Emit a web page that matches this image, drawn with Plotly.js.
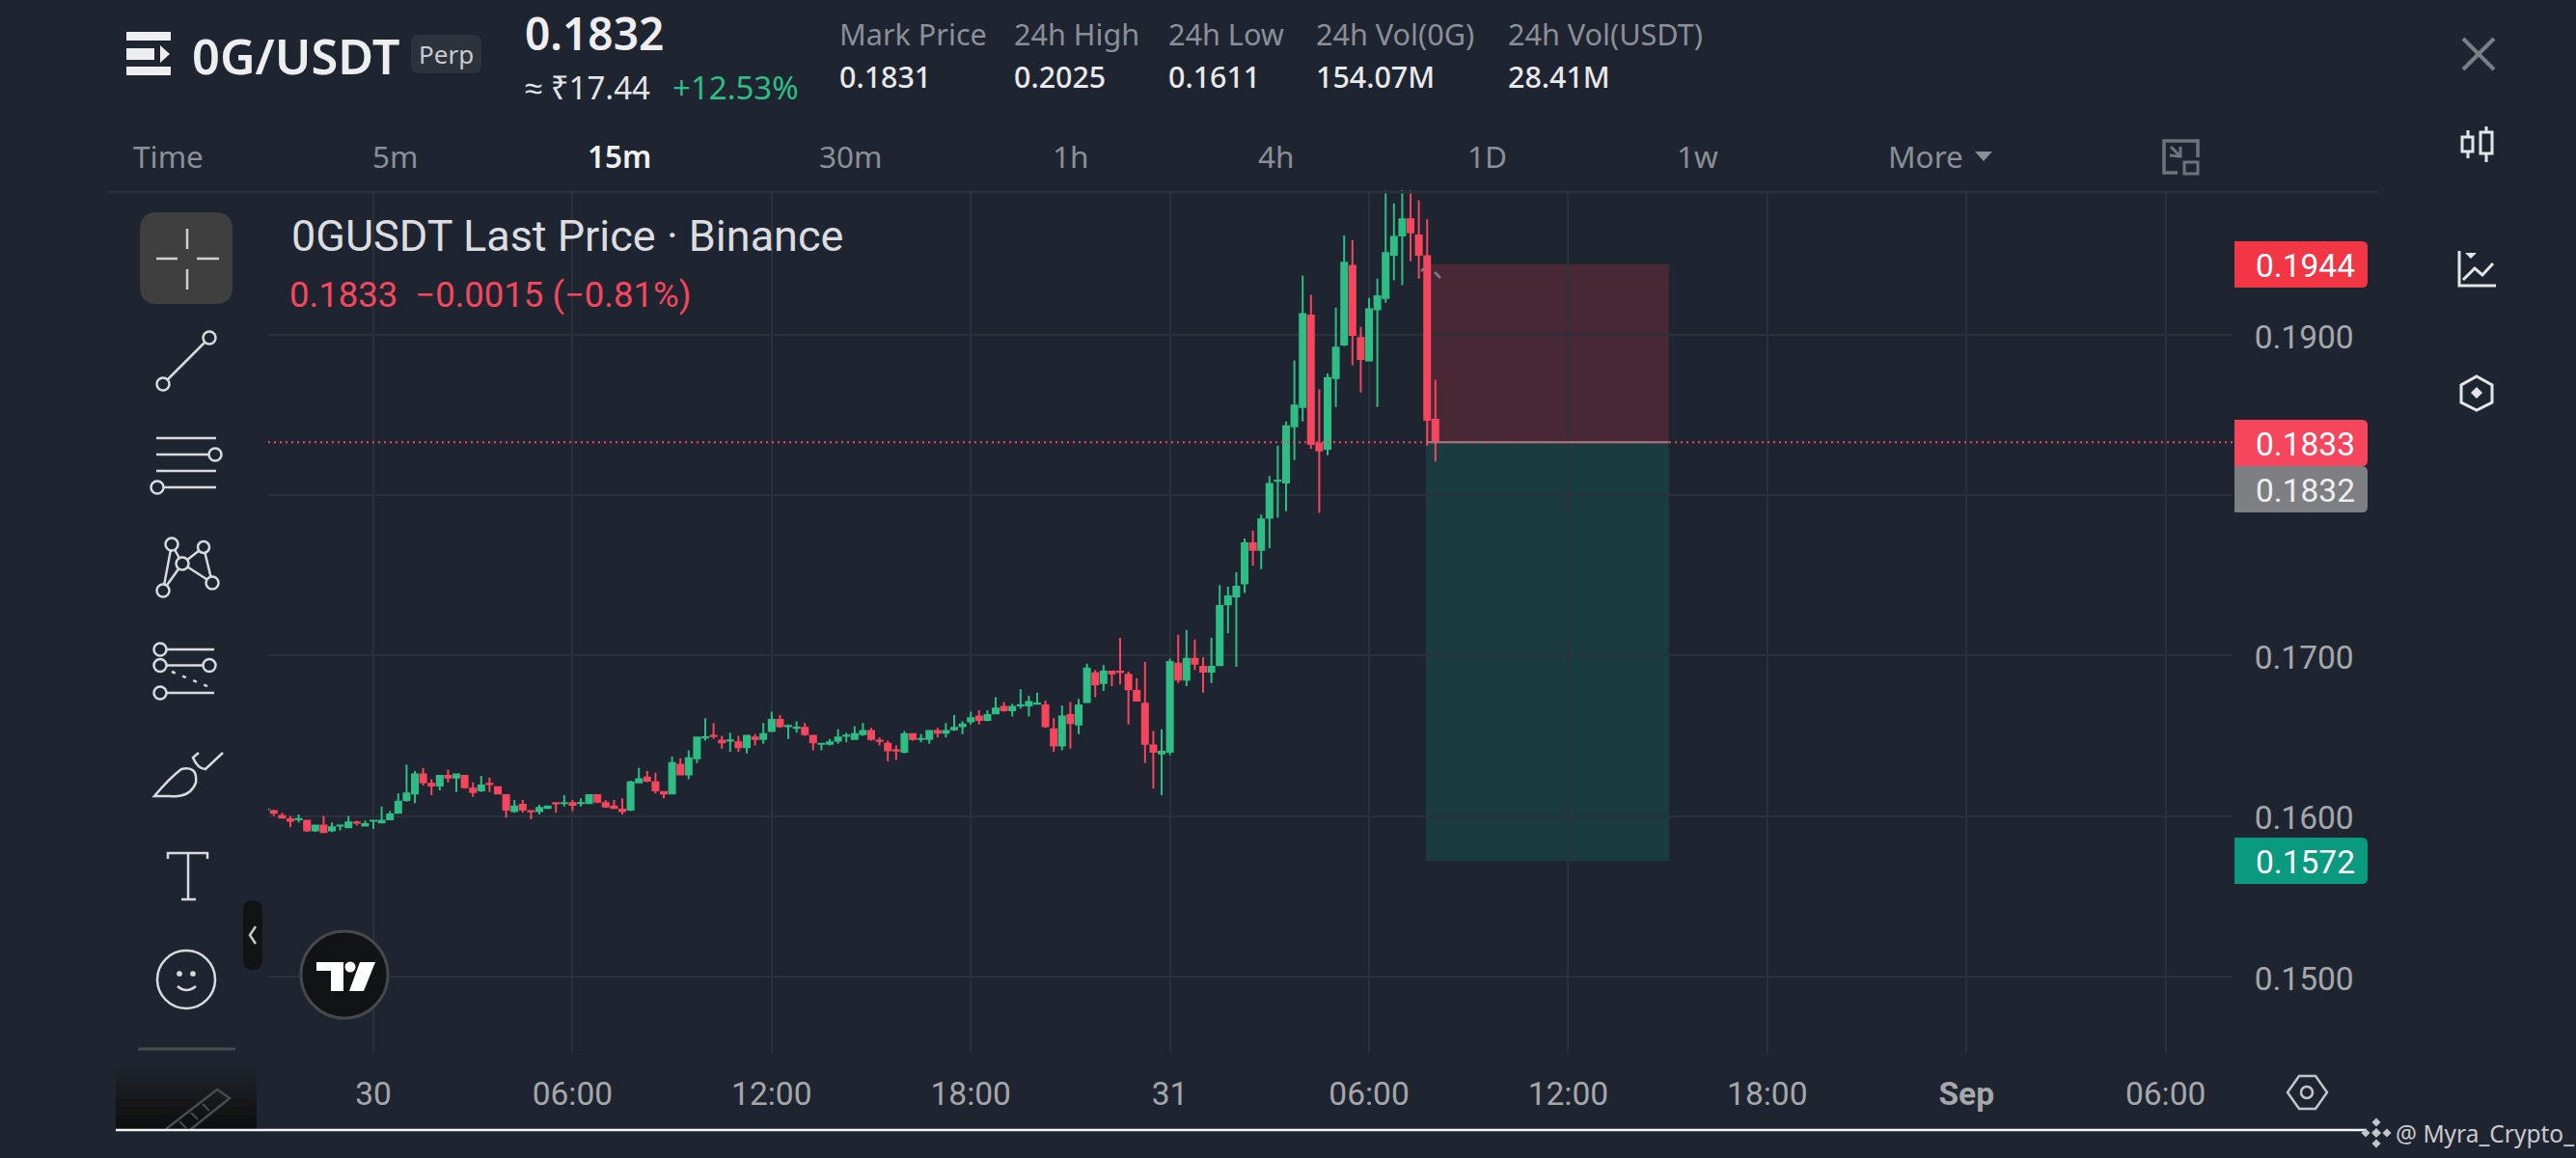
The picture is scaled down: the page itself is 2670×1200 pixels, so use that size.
<!DOCTYPE html>
<html>
<head>
<meta charset="utf-8">
<script src="https://cdn.plot.ly/plotly-3.0.1.min.js"></script>
<style>html,body{margin:0;padding:0;background:#1f2530;}#chart{width:2670px;height:1200px;}</style>
</head>
<body>
<div id="chart"></div>
<script>
const firstCandle = "2025-08-29T20:45:00";
const openPrices = [
0.1604,0.1603,0.1600,0.1598,0.1598,0.1597,0.1591,0.1594,0.1591,0.1594,
0.1593,0.1596,0.1594,0.1597,0.1596,0.1598,0.1602,0.1610,0.1614,0.1626,
0.1620,0.1619,0.1625,0.1624,0.1625,0.1617,0.1616,0.1620,0.1618,0.1613,
0.1603,0.1607,0.1603,0.1603,0.1605,0.1608,0.1608,0.1608,0.1608,0.1608,
0.1613,0.1608,0.1606,0.1604,0.1604,0.1621,0.1624,0.1621,0.1615,0.1614,
0.1632,0.1626,0.1636,0.1649,0.1650,0.1647,0.1647,0.1646,0.1643,0.1649,
0.1648,0.1653,0.1660,0.1656,0.1655,0.1655,0.1650,0.1645,0.1645,0.1647,
0.1650,0.1648,0.1651,0.1653,0.1647,0.1645,0.1641,0.1640,0.1651,0.1648,
0.1648,0.1653,0.1652,0.1654,0.1656,0.1659,0.1662,0.1660,0.1664,0.1668,
0.1666,0.1669,0.1669,0.1670,0.1669,0.1654,0.1644,0.1663,0.1657,0.1671,
0.1689,0.1683,0.1690,0.1690,0.1688,0.1678,0.1670,0.1644,0.1639,0.1640,
0.1695,0.1685,0.1698,0.1693,0.1690,0.1694,0.1732,0.1737,0.1745,0.1770,
0.1766,0.1786,0.1809,0.1808,0.1843,0.1855,0.1912,0.1832,0.1829,0.1873,
0.1894,0.1943,0.1898,0.1884,0.1916,0.1923,0.1950,0.1962,0.1972,0.1962,
0.1949,0.1847];
const closePrices = [
0.16041,0.1602,0.1599,0.1597,0.15981,0.1591,0.1594,0.1590,0.1593,0.15941,
0.1596,0.15959,0.1595,0.15971,0.1597,0.1601,0.1609,0.1614,0.1626,0.1621,
0.1619,0.1625,0.1624,0.1626,0.1618,0.1615,0.1619,0.16199,0.1614,0.1604,
0.1606,0.1604,0.16029,0.1605,0.1606,0.16079,0.16081,0.1607,0.16081,0.1613,
0.1609,0.1606,0.1605,0.1603,0.1621,0.1623,0.1622,0.1616,0.1614,0.1633,
0.1626,0.1636,0.1649,0.16491,0.16499,0.1646,0.16471,0.1643,0.1650,0.1648,
0.1651,0.1660,0.1656,0.16561,0.16551,0.1651,0.1646,0.16451,0.1646,0.1649,
0.16501,0.1651,0.1653,0.1648,0.16469,0.1641,0.16409,0.1651,0.1648,0.16481,
0.1653,0.1652,0.1653,0.1655,0.1657,0.1661,0.1660,0.1663,0.1667,0.1666,
0.1668,0.16691,0.1671,0.16701,0.1656,0.1644,0.1662,0.1658,0.1669,0.1692,
0.1682,0.1690,0.1689,0.16899,0.1679,0.1672,0.1645,0.1640,0.1640,0.1696,
0.1685,0.1698,0.1695,0.1690,0.1693,0.1731,0.1737,0.1743,0.1770,0.1766,
0.1785,0.1807,0.18091,0.1843,0.1856,0.1913,0.1832,0.1828,0.1873,0.1892,
0.1945,0.1900,0.1885,0.1916,0.1924,0.1951,0.1961,0.1972,0.1964,0.1950,
0.1847,0.1833];
const highPrices = [
0.1604,0.1604,0.1602,0.1600,0.1601,0.1597,0.1594,0.1600,0.1596,0.1594,
0.1600,0.1597,0.1597,0.1597,0.1606,0.1603,0.1614,0.1632,0.1628,0.1630,
0.1623,0.1625,0.1629,0.1626,0.1625,0.1621,0.1625,0.1624,0.1618,0.1613,
0.1610,0.1610,0.1603,0.1607,0.1606,0.1608,0.1613,0.1610,0.1611,0.1613,
0.1613,0.1610,0.1610,0.1611,0.1622,0.1630,0.1628,0.1627,0.1615,0.1637,
0.1636,0.1641,0.1649,0.1661,0.1658,0.1650,0.1652,0.1650,0.1650,0.1651,
0.1658,0.1665,0.1663,0.1657,0.1659,0.1658,0.1650,0.1645,0.1648,0.1654,
0.1652,0.1656,0.1658,0.1655,0.1649,0.1647,0.1644,0.1653,0.1651,0.1651,
0.1653,0.1655,0.1658,0.1663,0.1659,0.1665,0.1666,0.1666,0.1674,0.1671,
0.1670,0.1679,0.1675,0.1677,0.1672,0.1661,0.1669,0.1671,0.1673,0.1695,
0.1691,0.1694,0.1690,0.1711,0.1690,0.1686,0.1696,0.1653,0.1654,0.1698,
0.1713,0.1716,0.1710,0.1699,0.1711,0.1744,0.1743,0.1752,0.1773,0.1778,
0.1788,0.1812,0.1831,0.1846,0.1884,0.1937,0.1925,0.1866,0.1876,0.1917,
0.1962,0.1959,0.1905,0.1923,0.1935,0.1990,0.1982,0.1995,0.1995,0.1984,
0.1972,0.1872];
const lowPrices = [
0.1604,0.1600,0.1599,0.1593,0.1596,0.1590,0.1590,0.1590,0.1590,0.1591,
0.1593,0.1594,0.1594,0.1592,0.1596,0.1598,0.1602,0.1609,0.1608,0.1619,
0.1613,0.1616,0.1621,0.1615,0.1617,0.1612,0.1615,0.1615,0.1614,0.1599,
0.1602,0.1602,0.1598,0.1601,0.1605,0.1602,0.1606,0.1603,0.1606,0.1608,
0.1608,0.1605,0.1605,0.1601,0.1603,0.1621,0.1621,0.1614,0.1611,0.1614,
0.1626,0.1623,0.1633,0.1647,0.1648,0.1642,0.1640,0.1640,0.1639,0.1644,
0.1645,0.1653,0.1655,0.1648,0.1652,0.1650,0.1641,0.1641,0.1644,0.1645,
0.1646,0.1648,0.1650,0.1647,0.1644,0.1634,0.1635,0.1639,0.1647,0.1646,
0.1645,0.1649,0.1649,0.1653,0.1651,0.1657,0.1657,0.1659,0.1664,0.1665,
0.1662,0.1667,0.1662,0.1670,0.1655,0.1640,0.1641,0.1642,0.1651,0.1671,
0.1674,0.1678,0.1681,0.1682,0.1657,0.1672,0.1633,0.1617,0.1613,0.1638,
0.1683,0.1681,0.1691,0.1677,0.1683,0.1694,0.1714,0.1693,0.1739,0.1756,
0.1754,0.1767,0.1786,0.1790,0.1822,0.1846,0.1829,0.1789,0.1825,0.1855,
0.1893,0.1881,0.1864,0.1884,0.1855,0.1920,0.1934,0.1931,0.1946,0.1935,
0.1831,0.1821];

const priceTicks = [0.15,0.16,0.17,0.18,0.19];
const priceTickLabels = ["0.1500","0.1600","0.1700","","0.1900"];
const timeTicks = ["2025-08-30T00:00:00","2025-08-30T06:00:00","2025-08-30T12:00:00","2025-08-30T18:00:00","2025-08-31T00:00:00","2025-08-31T06:00:00","2025-08-31T12:00:00","2025-08-31T18:00:00","2025-09-01T00:00:00","2025-09-01T06:00:00"];
const timeTickLabels = ["30","06:00","12:00","18:00","31","06:00","12:00","18:00","<b>Sep</b>","06:00"];

const stopPrice = 0.1944, entryPrice = 0.1833, targetPrice = 0.1572;
const positionStart = "2025-08-31T07:43:00", positionEnd = "2025-08-31T15:02:00";
const tabs = ["Time","5m","15m","30m","1h","4h","1D","1w"];
const statLabels = ["Mark Price","24h High","24h Low","24h Vol(0G)","24h Vol(USDT)"];
const statValues = ["0.1831","0.2025","0.1611","154.07M","28.41M"];

const BG="#1f2530", GREEN="#2ebd85", RED="#f6465d", GRID="#2b313b", ICON="#d9dadc", MUTED="#8b8f97";
const L=278,R=2314,T=197,B=1091;
const X=x=>(x-L)/(R-L), Y=y=>(B-y)/(B-T);

const times=openPrices.map((_,i)=>{const d=new Date(firstCandle+"Z");d.setUTCMinutes(d.getUTCMinutes()+15*i);return d.toISOString().slice(0,19);});

const shapes=[], notes=[];
const P=(d,o={})=>shapes.push({type:'path',xref:'paper',yref:'paper',path:d.replace(/(-?[\d.]+)[ ,]+(-?[\d.]+)/g,(m,a,b)=>X(+a)+','+Y(+b)),
  line:{color:o.c||ICON,width:o.w===undefined?2.5:o.w},fillcolor:o.f||'rgba(0,0,0,0)',layer:o.layer||'above'});
const ln=(x0,y0,x1,y1,c=ICON,w=2.5,dash)=>shapes.push({type:'line',xref:'paper',yref:'paper',x0:X(x0),y0:Y(y0),x1:X(x1),y1:Y(y1),line:{color:c,width:w,dash:dash||'solid'},layer:'above'});
const box=(x0,y0,x1,y1,f)=>shapes.push({type:'rect',xref:'paper',yref:'paper',x0:X(x0),y0:Y(y0),x1:X(x1),y1:Y(y1),line:{width:0},fillcolor:f,layer:'above'});
const circ=(cx,cy,r,o={})=>shapes.push({type:'circle',xref:'paper',yref:'paper',x0:X(cx-r),x1:X(cx+r),y0:Y(cy-r),y1:Y(cy+r),line:{color:o.c||ICON,width:o.w===undefined?2.5:o.w},fillcolor:o.f||BG,layer:'above'});
const rr=(x0,y0,x1,y1,r,f)=>P(`M ${x0+r} ${y0} L ${x1-r} ${y0} Q ${x1} ${y0} ${x1} ${y0+r} L ${x1} ${y1-r} Q ${x1} ${y1} ${x1-r} ${y1} L ${x0+r} ${y1} Q ${x0} ${y1} ${x0} ${y1-r} L ${x0} ${y0+r} Q ${x0} ${y0} ${x0+r} ${y0} Z`,{c:f,f:f,w:0});
const note=(t,x,y,size,color,o={})=>notes.push({text:t,xref:'paper',yref:'paper',x:X(x),y:Y(y),xanchor:o.a||'left',yanchor:'middle',showarrow:false,borderpad:0,
  font:{family:o.fam||'"Noto Sans",sans-serif',size:size,color:color,weight:o.wt||400}});

// position tool (data-anchored)
shapes.push({type:'rect',xref:'x',yref:'y',x0:positionStart,x1:positionEnd,y0:entryPrice,y1:stopPrice,fillcolor:'rgba(242,54,69,0.2)',line:{width:0},layer:'below'});
shapes.push({type:'rect',xref:'x',yref:'y',x0:positionStart,x1:positionEnd,y0:targetPrice,y1:entryPrice,fillcolor:'rgba(8,153,129,0.2)',line:{width:0},layer:'below'});
shapes.push({type:'line',xref:'x',yref:'y',x0:positionStart,x1:positionEnd,y0:entryPrice,y1:entryPrice,line:{color:'#8a8c8f',width:2},layer:'above'});
shapes.push({type:'line',xref:'paper',yref:'y',x0:0,x1:1,y0:entryPrice,y1:entryPrice,line:{color:RED,width:2,dash:'2px,4px'},layer:'above'});
ln(1473,281,1476,278,'#7a7d82',2.5); ln(1487,282,1493,288,'#7a7d82',2.5);

// top rule
ln(112,199,2465,199,GRID,3);

// header
P("M 131 33 L 177 33 L 177 42 L 131 42 Z",{c:'#eeeef0',f:'#eeeef0',w:0});
P("M 131 50 L 160 50 L 160 62 L 131 62 Z",{c:'#eeeef0',f:'#eeeef0',w:0});
P("M 166 47 L 176 56 L 166 65 Z",{c:'#eeeef0',f:'#eeeef0',w:0});
P("M 131 69 L 177 69 L 177 78 L 131 78 Z",{c:'#eeeef0',f:'#eeeef0',w:0});
note("0G/USDT",198,57,50.5,"#eeeef0",{wt:600});
rr(426,36,499,76,8,"#2c333d");
note("Perp",462.5,56,26,"#c9cbcf",{a:'center'});
note("0.1832",543,34,46,"#eeeef0",{wt:600});
note("≈ ₹17.44",543,91,33,"#e4e5e7");
note("+12.53%",696,91,33,GREEN);
const statX=[869,1050,1210,1363,1562];
statLabels.forEach((s,i)=>{note(s,statX[i],35.5,30.6,MUTED);note(statValues[i],statX[i],79,30.4,"#e9e9eb",{wt:500});});

// tabs
const tabX=[174,409,642,882,1110,1323,1541,1759];
tabs.forEach((t,i)=>note(t,tabX[i],161.5,31.5,i===2?"#f2f2f3":MUTED,{a:'center',wt:i===2?600:400}));
note("More",1996,161.5,31.5,MUTED,{a:'center'});
P("M 2047 157 L 2065 157 L 2056 167 Z",{c:MUTED,f:MUTED,w:0});
P("M 2278 163 L 2278 146 L 2243 146 L 2243 179 L 2257 179",{c:'#6f737b',w:3.5});
P("M 2264 168 L 2278 168 L 2278 180 L 2264 180 Z",{c:'#6f737b',w:3});
P("M 2250 152 L 2260 162 M 2249 161 L 2260 162 L 2260 152",{c:'#6f737b',w:3});

// chart legend
note("0GUSDT Last Price · Binance",301,244,45,"#dcdde0",{fam:'Roboto,sans-serif'});
note("0.1833  −0.0015 (−0.81%)",299,305,36.5,"#f6465d",{fam:'Roboto,sans-serif'});

// price tags
const tag=(y0,y1,f,t,tc)=>{P(`M 2316 ${y0} L 2448 ${y0} Q 2454 ${y0} 2454 ${y0+6} L 2454 ${y1-6} Q 2454 ${y1} 2448 ${y1} L 2316 ${y1} Z`,{c:f,f:f,w:0});
  note(t,2336.5,(y0+y1)/2+1,33.5,tc,{fam:'Roboto,sans-serif'});};
tag(250,298,"#f23645","0.1944","#ffffff");
tag(435,483,"#f6465d","0.1833","#ffffff");
tag(483,531,"#7e7f82","0.1832","#eeeeee");
tag(868,916,"#0a9a80","0.1572","#ffffff");

// left toolbar
rr(145,220,241,315,18,"#3f3f40");
ln(194,237,194,258,"#d0d0d0",2.5);ln(194,279,194,300,"#d0d0d0",2.5);ln(162,268,184,268,"#d0d0d0",2.5);ln(204,268,227,268,"#d0d0d0",2.5);
ln(169,398,217,350);circ(169,398,6.5);circ(217,350,6.5);
ln(162,454,224,454);ln(162,471,218,471);ln(162,488,224,488);ln(168,505,224,505);circ(223,471,6.5);circ(163,505,6.5);
ln(178,564,169,612);ln(169,612,189,584);ln(178,564,189,584);ln(189,584,211,567);ln(211,567,220,604);ln(189,584,220,604);
circ(178,564,6.5);circ(211,567,6);circ(189,584,6.5);circ(169,612,6.5);circ(220,604,6.5);
ln(172,673,222,673);ln(172,689.5,212,689.5);ln(172,718,222,718);ln(178,696,217,712,ICON,2.5,'4px,8px');
circ(166,673,6.5);circ(166,689.5,6.5);circ(217,689.5,6.5);circ(166,718,6.5);
P("M 160 825 Q 176 806 188 797 Q 205 793 203 811 Q 197 827 176 825 Z");
P("M 206 780 L 200 785 Q 205 797 213 797 L 231 780");
P("M 174 890 L 174 884 L 215 884 L 215 890 M 195 884 L 195 932 M 188 932 L 203 932");
circ(193,1015,30);circ(186,1009,1.6,{f:ICON});circ(200,1009,1.6,{f:ICON});P("M 184 1022 Q 193 1030 203 1022");
ln(143,1087,244,1087,"#474c55",3);
const rulerShades=["#1d2229","#1b2026","#191d22","#171a1e","#15171a","#121416","#101113","#0e0f10"];
rulerShades.forEach((c,i)=>box(120,1108+i*7.75,266,1108+(i+1)*7.75,c));
P("M 172 1170 L 225 1129 L 238 1138 L 198 1170",{c:'#4a4b4e',w:2.5});
ln(186,1162,193,1169,'#4a4b4e',2);ln(198,1153,205,1160,'#4a4b4e',2);ln(210,1144,217,1151,'#4a4b4e',2);
rr(252,933,272,1005,10,"#111314");
P("M 265 960 L 259 969 L 265 978",{c:'#c9c9c9',w:2.5});
circ(357,1010,45,{f:'#111314',c:'#46484c',w:3});
P("M 328 997 L 356 997 L 356 1027 L 343 1027 L 343 1006 L 328 1006 Z",{c:'#fff',f:'#fff',w:0});
circ(363,1002,5.5,{f:'#fff',c:'#fff',w:0});
P("M 373 997 L 389 997 L 377 1027 L 362 1027 Z",{c:'#fff',f:'#fff',w:0});

// right toolbar
ln(2553,40,2585,72,"#7a7e86",4);ln(2585,40,2553,72,"#7a7e86",4);
P("M 2552 142 L 2563 142 L 2563 157 L 2552 157 Z M 2558 135 L 2558 142 M 2558 157 L 2558 164 M 2571 137 L 2583 137 L 2583 159 L 2571 159 Z M 2577 131 L 2577 137 M 2577 159 L 2577 168",{c:'#e4e5e7',w:3});
P("M 2549 260 L 2549 296 L 2587 296",{c:'#e4e5e7',w:3});
P("M 2555 262 L 2567 262 L 2561 268 Z",{c:'#e4e5e7',f:'#e4e5e7',w:0});
P("M 2553 290 L 2565 278 L 2573 285 L 2584 273",{c:'#e4e5e7',w:3});
P("M 2567 390 L 2583 399 L 2583 417 L 2567 425 L 2551 417 L 2551 399 Z",{c:'#e4e5e7',w:3});
P("M 2567 401 L 2573 407 L 2567 413 L 2561 407 Z",{c:'#e4e5e7',f:'#e4e5e7',w:0});

// bottom
P("M 2371 1132 L 2383 1115 L 2400 1115 L 2412 1132 L 2400 1149 L 2383 1149 Z",{c:'#c4c5c8',w:2.5});
circ(2391,1132,6,{c:'#c4c5c8',w:2.5});
ln(120,1171,2453,1171,"#f4f4f4",2.5);
[[2463,1163],[2452,1174],[2474,1174],[2463,1185]].forEach(p=>P(`M ${p[0]} ${p[1]-4.5} L ${p[0]+4.5} ${p[1]} L ${p[0]} ${p[1]+4.5} L ${p[0]-4.5} ${p[1]} Z`,{c:'#c4c5c8',f:'#c4c5c8',w:0}));
P("M 2463 1169 L 2468 1174 L 2463 1179 L 2458 1174 Z",{c:'#c4c5c8',f:'#c4c5c8',w:0});
note("@ Myra_Crypto_",2482,1174,24.5,"#c9cacd");

const trace={type:'candlestick',x:times,open:openPrices,high:highPrices,low:lowPrices,close:closePrices,whiskerwidth:0,
  increasing:{line:{color:GREEN,width:2},fillcolor:GREEN},decreasing:{line:{color:RED,width:2},fillcolor:RED},showlegend:false,hoverinfo:'skip'};

const layout={width:2670,height:1200,paper_bgcolor:BG,plot_bgcolor:BG,showlegend:false,boxmode:'overlay',boxgap:0.3,boxgroupgap:0,
  margin:{l:L,r:2670-R,t:T,b:1200-B,pad:0},
  xaxis:{type:'date',range:["2025-08-29T20:49:53","2025-09-01T08:01:00"],rangeslider:{visible:false},tickmode:'array',tickvals:timeTicks,ticktext:timeTickLabels,
    showgrid:true,gridcolor:GRID,gridwidth:2,zeroline:false,showline:false,ticks:'outside',ticklen:13,tickcolor:'rgba(0,0,0,0)',
    tickfont:{family:'Roboto,sans-serif',size:33.5,color:'#a5a7ab'},tickangle:0},
  yaxis:{range:[0.145235,0.199025],side:'right',tickmode:'array',tickvals:priceTicks,ticktext:priceTickLabels,
    showgrid:true,gridcolor:GRID,gridwidth:2,zeroline:false,showline:false,ticks:'outside',ticklen:15,tickcolor:'rgba(0,0,0,0)',ticklabelshift:2,
    tickfont:{family:'Roboto,sans-serif',size:33.5,color:'#a5a7ab'}},
  shapes:shapes,annotations:notes};
Plotly.newPlot('chart',[trace],layout,{displayModeBar:false,staticPlot:true});
</script>
</body>
</html>
